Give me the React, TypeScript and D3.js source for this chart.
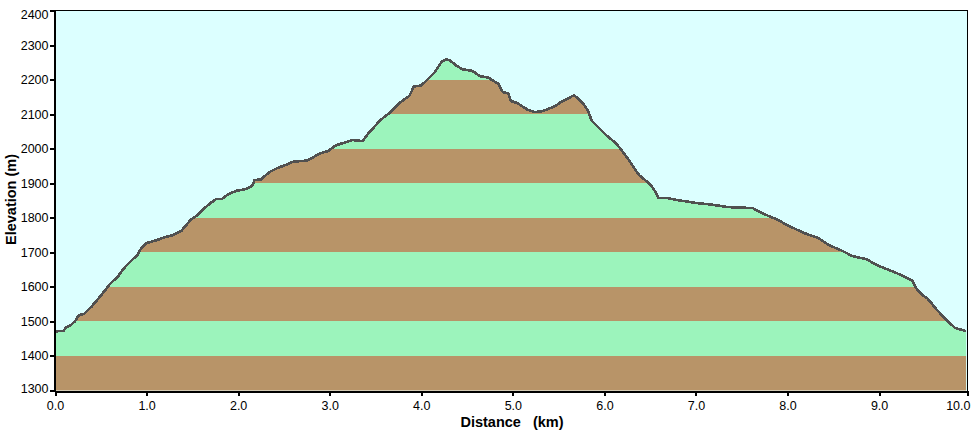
import React, { useRef, useEffect } from "react";
import * as d3 from "d3";

const ChartConfig = {
  width: 973,
  height: 431,
  left: 55,
  right: 967,
  top: 10.5,
  bottom: 390.5,
};

const colors = {
  sky: "#dcffff",
  green: "#9cf4bc",
  brown: "#b89468",
  line: "#505050",
};

const fontFamily = '"Liberation Sans", Arial, sans-serif';

// distance in km, elevation in m
const distance = [
  0, 0.03, 0.09, 0.12, 0.18, 0.22, 0.26, 0.32, 0.4, 0.49, 0.6, 0.69, 0.75, 0.83,
  0.9, 0.94, 1.0, 1.11, 1.2, 1.29, 1.38, 1.43, 1.49, 1.56, 1.63, 1.69, 1.76,
  1.82, 1.89, 1.98, 2.07, 2.15, 2.18, 2.25, 2.34, 2.43, 2.51, 2.6, 2.76, 2.89,
  2.98, 3.07, 3.18, 3.25, 3.36, 3.42, 3.47, 3.55, 3.65, 3.73, 3.79, 3.87, 3.92,
  4.0, 4.06, 4.15, 4.22, 4.27, 4.31, 4.38, 4.45, 4.56, 4.64, 4.73, 4.84, 4.89,
  4.95, 4.98, 5.05, 5.16, 5.24, 5.33, 5.46, 5.53, 5.62, 5.67, 5.76, 5.82, 5.86,
  5.92, 6.02, 6.13, 6.2, 6.27, 6.33, 6.38, 6.5, 6.55, 6.59, 6.69, 6.8, 7.0,
  7.17, 7.35, 7.62, 7.71, 7.82, 7.89, 7.98, 8.17, 8.33, 8.46, 8.6, 8.71, 8.86,
  9.0, 9.19, 9.36, 9.4, 9.46, 9.53, 9.62, 9.73, 9.83, 9.95,
];

const elevation = [
  1467, 1472, 1472, 1482, 1491, 1501, 1518, 1522, 1543, 1571, 1608, 1631, 1653,
  1675, 1692, 1711, 1727, 1735, 1744, 1750, 1762, 1778, 1796, 1808, 1827, 1841,
  1854, 1854, 1868, 1878, 1882, 1891, 1909, 1911, 1932, 1944, 1952, 1962, 1966,
  1986, 1993, 2010, 2019, 2025, 2022, 2044, 2058, 2082, 2103, 2124, 2138, 2153,
  2180, 2183, 2198, 2222, 2251, 2259, 2256, 2241, 2230, 2225, 2210, 2206, 2188,
  2164, 2160, 2138, 2132, 2113, 2106, 2109, 2123, 2136, 2148, 2155, 2133, 2111,
  2082, 2065, 2039, 2015, 1991, 1966, 1942, 1923, 1897, 1878, 1857, 1857, 1851,
  1843, 1838, 1831, 1828, 1815, 1802, 1795, 1781, 1757, 1742, 1720, 1704, 1689,
  1680, 1660, 1640, 1619, 1598, 1579, 1566, 1537, 1505, 1481, 1472,
];

const elevationTicks = [
  1300, 1400, 1500, 1600, 1700, 1800, 1900, 2000, 2100, 2200, 2300, 2400,
];
// the last tick sits at the end of the track, shown rounded as 10.0
const distanceTicks = [0, 1, 2, 3, 4, 5, 6, 7, 8, 9, 9.96];

const bandEdges = [1300, 1400, 1500, 1600, 1700, 1800, 1900, 2000, 2100, 2200, 2300];

const App = () => {
  const ref = useRef<SVGSVGElement>(null);

  useEffect(() => {
    const { width, height, left, right, top, bottom } = ChartConfig;

    const xScale = d3.scaleLinear().domain([0, 9.96]).range([left, right]);
    const yScale = d3.scaleLinear().domain([1300, 2400]).range([bottom, top]);

    const points = distance.map((d, i) => [d, elevation[i]] as [number, number]);

    const svg = d3.select(ref.current).attr("width", width).attr("height", height);
    svg.selectAll("*").remove();

    svg
      .append("rect")
      .attr("x", left)
      .attr("y", top)
      .attr("width", right - left)
      .attr("height", bottom - top)
      .attr("fill", colors.sky);

    const areaGenerator = d3
      .area<[number, number]>()
      .x((d) => xScale(d[0]))
      .y0(yScale(1300))
      .y1((d) => yScale(d[1]));

    svg
      .append("clipPath")
      .attr("id", "ground")
      .append("path")
      .attr("d", areaGenerator(points) as string);

    // stripes are 100 m tall, brown from the bottom up
    svg
      .append("g")
      .attr("clip-path", "url(#ground)")
      .selectAll("rect")
      .data(bandEdges)
      .enter()
      .append("rect")
      .attr("x", left)
      .attr("width", right - left)
      .attr("y", (d) => yScale(d + 100))
      .attr("height", (d) => yScale(d) - yScale(d + 100))
      .attr("fill", (_, i) => (i % 2 === 0 ? colors.brown : colors.green))
      .attr("shape-rendering", "crispEdges");

    const lineGenerator = d3
      .line<[number, number]>()
      .x((d) => xScale(d[0]))
      .y((d) => yScale(d[1]));

    // no antialiasing, the original line is stepped
    svg
      .append("path")
      .attr("d", lineGenerator(points) as string)
      .attr("fill", "none")
      .attr("stroke", colors.line)
      .attr("stroke-width", 2.6)
      .attr("shape-rendering", "crispEdges");

    // frame
    svg
      .append("rect")
      .attr("x", left - 0.5)
      .attr("y", top - 0.5)
      .attr("width", right - left + 1)
      .attr("height", bottom - top + 1)
      .attr("fill", "none")
      .attr("stroke", "#000")
      .attr("stroke-width", 1)
      .attr("shape-rendering", "crispEdges");

    const yAxis = svg
      .append("g")
      .attr("transform", `translate(${left - 0.5},0)`)
      .call(
        d3
          .axisLeft(yScale)
          .tickValues(elevationTicks)
          .tickFormat(d3.format("d") as any)
          .tickSize(5)
          .tickSizeOuter(0)
          .tickPadding(1)
      );

    const xAxis = svg
      .append("g")
      .attr("transform", `translate(0,${bottom + 0.5})`)
      .call(
        d3
          .axisBottom(xScale)
          .tickValues(distanceTicks)
          .tickFormat(d3.format(".1f") as any)
          .tickSize(5)
          .tickSizeOuter(0)
          .tickPadding(5)
      );

    [yAxis, xAxis].forEach((axis) => {
      axis.attr("font-family", fontFamily).attr("font-size", 12.5);
      axis.selectAll("text").attr("fill", "#000");
      axis
        .selectAll(".tick line")
        .attr("stroke", "#000")
        .attr("stroke-width", 2)
        .attr("shape-rendering", "crispEdges");
      axis
        .select(".domain")
        .attr("stroke", "#000")
        .attr("stroke-width", 2)
        .attr("shape-rendering", "crispEdges");
    });

    // end labels are pushed inwards so they stay on the page
    yAxis
      .selectAll<SVGTextElement, number>(".tick text")
      .attr("dy", (d) => (d === 2400 ? "0.62em" : d === 1300 ? "0.16em" : "0.32em"));
    xAxis
      .selectAll<SVGTextElement, number>(".tick text")
      .filter((d) => d === 9.96)
      .attr("text-anchor", "end")
      .attr("x", 3);

    svg
      .append("text")
      .attr("transform", "translate(16,199.5) rotate(-90)")
      .attr("text-anchor", "middle")
      .attr("font-family", fontFamily)
      .attr("font-size", 14.5)
      .attr("font-weight", "bold")
      .text("Elevation (m)");

    svg
      .append("text")
      .attr("x", 512)
      .attr("y", 427)
      .attr("text-anchor", "middle")
      .attr("font-family", fontFamily)
      .attr("font-size", 14.5)
      .attr("font-weight", "bold")
      .style("white-space", "pre")
      .text("Distance   (km)");
  }, []);

  return (
    <svg
      ref={ref}
      style={{ position: "absolute", left: 0, top: 0, display: "block" }}
    ></svg>
  );
};

export default App;
